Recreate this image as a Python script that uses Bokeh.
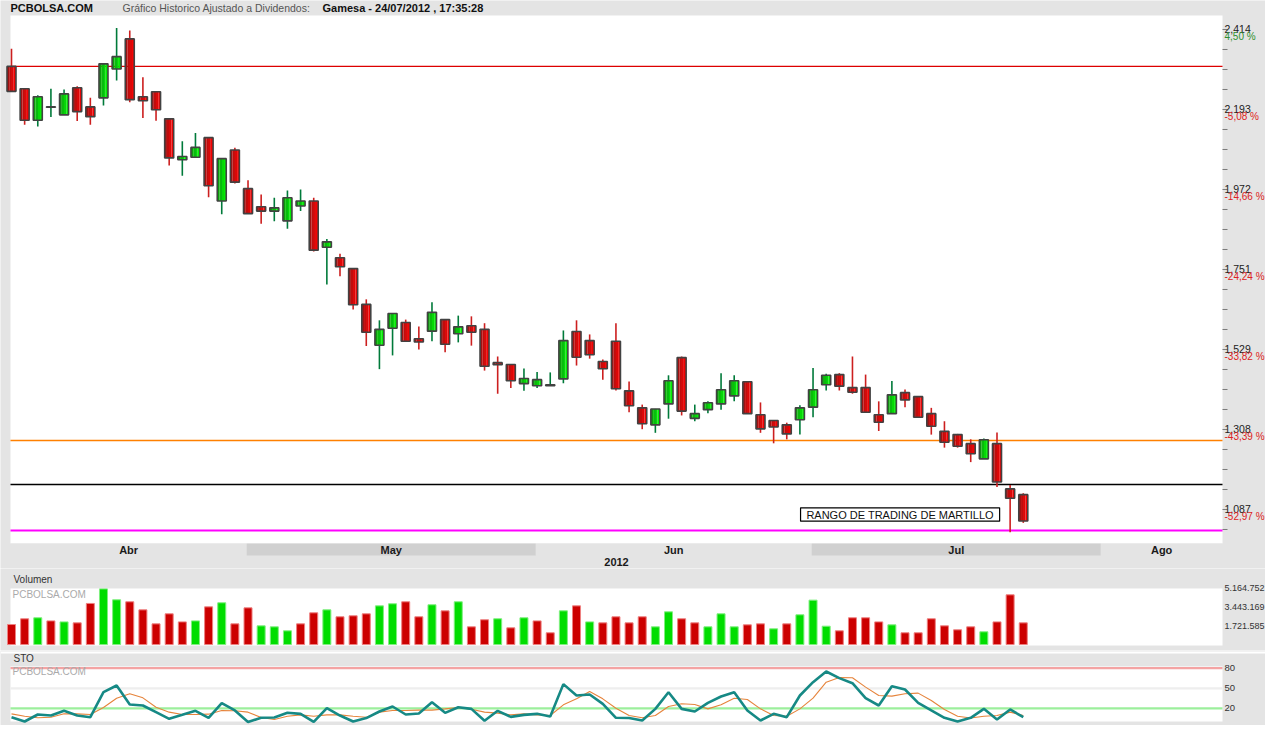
import numpy as np
from bokeh.plotting import figure
from bokeh.models import ColumnDataSource, Range1d
from bokeh.layouts import column
from bokeh.embed import file_html
from bokeh.resources import INLINE
from bokeh.core.properties import value

# ---------------- data ----------------
opens = [2.312, 2.250, 2.163, 2.199, 2.178, 2.253, 2.200, 2.225, 2.305, 2.388,
         2.228, 2.242, 2.167, 2.054, 2.061, 2.115, 1.940, 2.081, 1.974, 1.924,
         1.912, 1.885, 1.926, 1.940, 1.812, 1.783, 1.753, 1.654, 1.541, 1.588,
         1.604, 1.559, 1.580, 1.612, 1.573, 1.595, 1.585, 1.493, 1.488, 1.435,
         1.429, 1.429, 1.448, 1.579, 1.554, 1.496, 1.552, 1.415, 1.368, 1.321,
         1.379, 1.507, 1.339, 1.363, 1.379, 1.401, 1.440, 1.349, 1.333, 1.321,
         1.335, 1.370, 1.432, 1.460, 1.424, 1.424, 1.349, 1.352, 1.410, 1.399,
         1.352, 1.303, 1.294, 1.269, 1.227, 1.269, 1.144, 1.128]
highs = [2.361, 2.250, 2.232, 2.250, 2.248, 2.257, 2.225, 2.319, 2.418, 2.411,
         2.282, 2.242, 2.167, 2.105, 2.128, 2.115, 2.057, 2.087, 1.997, 1.958,
         1.949, 1.969, 1.972, 1.949, 1.835, 1.794, 1.753, 1.668, 1.610, 1.629,
         1.612, 1.593, 1.660, 1.612, 1.623, 1.621, 1.602, 1.510, 1.488, 1.477,
         1.467, 1.466, 1.582, 1.610, 1.571, 1.502, 1.602, 1.441, 1.377, 1.365,
         1.458, 1.510, 1.377, 1.386, 1.464, 1.458, 1.440, 1.383, 1.333, 1.327,
         1.375, 1.478, 1.462, 1.464, 1.510, 1.460, 1.386, 1.442, 1.419, 1.399,
         1.368, 1.331, 1.296, 1.281, 1.283, 1.300, 1.155, 1.132]
lows = [2.241, 2.151, 2.146, 2.172, 2.178, 2.161, 2.151, 2.204, 2.273, 2.213,
        2.169, 2.162, 2.038, 2.010, 2.061, 1.950, 1.903, 1.988, 1.904, 1.877,
        1.884, 1.863, 1.912, 1.800, 1.709, 1.732, 1.640, 1.539, 1.475, 1.513,
        1.552, 1.529, 1.552, 1.522, 1.549, 1.540, 1.471, 1.407, 1.423, 1.415,
        1.423, 1.429, 1.436, 1.485, 1.504, 1.446, 1.416, 1.356, 1.309, 1.299,
        1.338, 1.347, 1.331, 1.353, 1.363, 1.386, 1.352, 1.299, 1.270, 1.281,
        1.294, 1.342, 1.416, 1.416, 1.407, 1.355, 1.304, 1.352, 1.370, 1.342,
        1.294, 1.258, 1.258, 1.218, 1.227, 1.149, 1.024, 1.050]
closes = [2.243, 2.163, 2.228, 2.200, 2.236, 2.187, 2.173, 2.319, 2.339, 2.220,
          2.217, 2.192, 2.059, 2.063, 2.088, 1.982, 2.057, 1.992, 1.905, 1.912,
          1.921, 1.949, 1.940, 1.804, 1.827, 1.758, 1.653, 1.577, 1.585, 1.629,
          1.552, 1.550, 1.632, 1.544, 1.592, 1.577, 1.483, 1.487, 1.443, 1.449,
          1.446, 1.432, 1.554, 1.508, 1.515, 1.476, 1.421, 1.374, 1.324, 1.365,
          1.443, 1.359, 1.352, 1.382, 1.418, 1.443, 1.352, 1.310, 1.315, 1.296,
          1.368, 1.418, 1.458, 1.428, 1.411, 1.356, 1.328, 1.404, 1.390, 1.342,
          1.317, 1.273, 1.262, 1.241, 1.280, 1.163, 1.118, 1.055]
volumes = [1810000, 2330000, 2420000, 2140000, 2050000, 1960000, 3720000, 5040000, 4050000, 3870000,
           3140000, 1870000, 2780000, 2050000, 2140000, 3410000, 3780000, 1870000, 3320000, 1690000,
           1600000, 1240000, 1870000, 2870000, 3140000, 2510000, 2600000, 2780000, 3500000, 3690000,
           3870000, 2510000, 3600000, 3050000, 3870000, 1600000, 2240000, 2330000, 1510000, 2420000,
           2140000, 1060000, 3050000, 3500000, 2050000, 1960000, 2510000, 1960000, 2510000, 1600000,
           2960000, 2330000, 1960000, 1600000, 2780000, 1600000, 1780000, 1870000, 1420000, 1870000,
           2690000, 4020000, 1660000, 1240000, 2420000, 2420000, 2050000, 1780000, 1060000, 1060000,
           2330000, 1690000, 1330000, 1600000, 1150000, 2050000, 4500000, 1960000]
vol_up = [0, 0, 1, 0, 1, 0, 0, 1, 1, 0, 0, 0, 0, 0, 1, 0, 1, 0, 0, 1,
          1, 1, 0, 0, 1, 0, 0, 0, 1, 1, 0, 0, 1, 0, 1, 0, 0, 1, 0, 1,
          0, 0, 1, 0, 1, 0, 0, 0, 0, 1, 1, 0, 0, 1, 1, 1, 0, 0, 1, 0,
          1, 1, 1, 0, 0, 0, 0, 1, 0, 0, 0, 0, 0, 0, 1, 0, 0, 0]
sto_k = [7.0, 0.6, 11.0, 9.5, 16.5, 9.5, 7.0, 44.2, 54.2, 25.9,
         24.4, 14.5, 4.6, 10.5, 16.5, 6.1, 27.9, 17.0, 0.0, 6.1,
         6.5, 13.5, 12.0, 0.0, 20.4, 9.5, 0.6, 5.7, 15.5, 22.9,
         11.0, 12.5, 29.4, 13.5, 21.9, 19.4, 1.6, 16.5, 7.5, 10.5,
         12.0, 8.0, 56.2, 39.3, 40.8, 26.9, 6.1, 5.7, 2.1, 19.4,
         44.2, 19.4, 15.5, 28.4, 37.8, 44.2, 17.0, 2.1, 12.0, 7.0,
         39.3, 59.1, 75.0, 65.1, 57.6, 35.3, 24.4, 53.2, 48.2, 28.4,
         17.0, 6.1, 0.6, 6.1, 19.4, 3.6, 18.5, 7.0]
sto_d = [12.0, 8.5, 6.1, 7.0, 12.0, 12.0, 11.0, 21.4, 35.3, 41.8,
         35.8, 21.9, 14.5, 11.0, 11.0, 11.5, 17.0, 16.5, 14.5, 6.5,
         3.6, 8.5, 10.5, 8.5, 10.5, 10.5, 8.5, 7.0, 14.5, 17.0,
         17.0, 17.5, 17.5, 19.4, 21.4, 18.9, 14.5, 13.0, 10.5, 12.0,
         10.5, 9.5, 25.4, 34.3, 45.2, 34.3, 20.4, 9.5, 6.1, 9.5,
         22.9, 26.9, 25.9, 19.4, 25.4, 35.3, 33.3, 19.4, 9.5, 8.5,
         19.4, 35.3, 59.1, 66.1, 65.6, 51.7, 39.3, 38.3, 41.8, 42.8,
         31.8, 18.5, 8.5, 5.7, 8.5, 9.5, 14.5, 9.5]

price_ticks = [2.414, 2.193, 1.972, 1.751, 1.529, 1.308, 1.087]
price_tick_labels = ["2,414", "2,193", "1,972", "1,751", "1,529", "1,308", "1,087"]
pct_labels = ["4,50 %", "-5,08 %", "-14,66 %", "-24,24 %", "-33,82 %", "-43,39 %", "-52,97 %"]
vol_ticks = [5164752, 3443169, 1721585]
vol_tick_labels = ["5.164.752", "3.443.169", "1.721.585"]
sto_ticks = [80, 50, 20]
sto_tick_labels = ["80", "50", "20"]
sto_tick_colors = ["#f4a3a3", "#eeeeee", "#9cef9c"]

months = ["Abr", "May", "Jun", "Jul", "Ago"]
month_starts = [17.9, 39.9, 60.9, 82.9]   # bar index where a new month begins
year_label = "2012"

hlines = [2.312, 1.2776, 1.1561, 1.029]
hline_colors = ["#dd0000", "#ff8000", "#000000", "#ff00ff"]
hline_widths = [1.3, 1.5, 1.3, 2.0]

note_text = "RANGO DE TRADING DE MARTILLO"
note_box = dict(x0=60.05, x1=75.2, y0=1.0547, y1=1.0917)

# ---------------- layout constants ----------------
BG = "#e4e4e4"
FONT = "Liberation Sans"
W = 1265
PX_BAR = 13.14
X0 = 11.0


def ix(px):
    return (px - X0) / PX_BAR


x_range = Range1d(ix(0), ix(W))
XL = ix(10)
XR = ix(1222)
LABX = ix(1224)
n = len(closes)
idx = np.arange(n)


def base_fig(h, yr):
    p = figure(width=W, height=h, x_range=x_range, y_range=yr,
               x_axis_type=None, y_axis_type=None,
               output_backend="svg", toolbar_location=None, min_border=0,
               background_fill_color=BG, border_fill_color=BG,
               outline_line_color=None)
    p.grid.visible = False
    return p


def txt(p, x, y, t, size="11px", color="#222", align="left", baseline="middle",
        style="normal"):
    src = ColumnDataSource(dict(x=list(x), y=list(y), t=list(t),
                                c=list(color) if isinstance(color, list) else [color] * len(t)))
    p.text(x="x", y="y", text="t", source=src, text_color="c",
           text_font=value(FONT), text_font_size=size, text_align=align,
           text_baseline=baseline, text_font_style=style)


# ---------------- main price panel ----------------
HA = 568
P_TOP, P_BOT = 2.4527, 0.9930
TOPPX, BOTPX = 15, 543
KA = (BOTPX - TOPPX) / (P_TOP - P_BOT)


def pa(py):
    return P_TOP - (py - TOPPX) / KA


pA = base_fig(HA, Range1d(pa(HA), pa(0)))
pA.quad(left=[XL], right=[XR], bottom=[P_BOT], top=[P_TOP], fill_color="white", line_color=None)

for lv, lc, lw in zip(hlines, hline_colors, hline_widths):
    pA.segment(x0=[XL], x1=[XR], y0=[lv], y1=[lv], line_color=lc, line_width=lw)

up = np.array(closes) >= np.array(opens)
wick_col = np.where(up, "#007a3a", "#cc1f1f")
src = ColumnDataSource(dict(x=idx, o=opens, h=highs, l=lows, c=closes,
                            bt=np.maximum(opens, closes), bb=np.minimum(opens, closes),
                            wc=wick_col))
pA.segment(x0="x", x1="x", y0="l", y1="h", line_color="wc", line_width=1.6, source=src)
BW = 9 / PX_BAR
red_grad = ["#a01212", "#c10c0c", "#dc0707", "#f40202"]
green_grad = ["#0c9c0c", "#0abd0a", "#06d806", "#02ee02"]
for k in range(4):
    off = -BW / 2 + BW / 8 + k * BW / 4
    cols = np.where(up, green_grad[k], red_grad[k])
    s = ColumnDataSource(dict(x=idx + off, t=src.data["bt"], b=src.data["bb"], fc=cols))
    pA.vbar(x="x", top="t", bottom="b", width=BW / 4, fill_color="fc", line_color=None, source=s)
pA.vbar(x="x", top="bt", bottom="bb", width=BW, fill_alpha=0, line_color="#424242",
        line_width=1.6, source=src)

# note box
pA.quad(left=[note_box["x0"]], right=[note_box["x1"]], bottom=[note_box["y0"]], top=[note_box["y1"]],
        fill_color="white", line_color="black", line_width=1.2)
txt(pA, [(note_box["x0"] + note_box["x1"]) / 2], [(note_box["y0"] + note_box["y1"]) / 2 - 0.3 / KA],
    [note_text], size="11px", color="#111", align="center")

# right price axis
step = (price_ticks[0] - price_ticks[-1]) / (len(price_ticks) - 1) / 4
minor = [price_ticks[-1] + j * step for j in range(-3, 30)]
minor = [m for m in minor if P_BOT < m < P_TOP]
tw = 5 / PX_BAR
pA.segment(x0=[XR] * len(minor), x1=[XR + tw] * len(minor), y0=minor, y1=minor,
           line_color="#7a7a7a", line_width=1)
txt(pA, [LABX] * len(price_ticks), [t + 0.5 / KA for t in price_ticks], price_tick_labels,
    size="10.5px", color="#222", baseline="alphabetic")
pct_cols = ["#2f8f2f" if not s.startswith("-") else "#dd2222" for s in pct_labels]
txt(pA, [LABX] * len(price_ticks), [t - 1.5 / KA for t in price_ticks], pct_labels,
    size="10px", color=pct_cols, baseline="top")

# month band
bounds = [XL] + month_starts + [XR]
band_cols = [BG if i % 2 == 0 else "#d0d0d0" for i in range(len(months))]
pA.quad(left=bounds[:-1], right=bounds[1:], bottom=[pa(BOTPX + 12)] * len(months),
        top=[pa(BOTPX)] * len(months), fill_color=band_cols, line_color=None)
centers = [(a + b) / 2 for a, b in zip(bounds[:-1], bounds[1:])]
txt(pA, centers, [pa(BOTPX + 6.5)] * len(months), months, size="11px", color="#1a1a1a",
    align="center", style="bold")
txt(pA, [(XL + XR) / 2], [pa(BOTPX + 18.5)], [year_label], size="11px", color="#1a1a1a",
    align="center", style="bold")

# header
hy = pa(7.5)
txt(pA, [ix(10)], [hy], ["PCBOLSA.COM"], size="11px", color="#111", style="bold")
txt(pA, [ix(122)], [hy], ["Gráfico Historico Ajustado a Dividendos:"], size="10.5px", color="#555")
txt(pA, [ix(322)], [hy], ["Gamesa - 24/07/2012 , 17:35:28"], size="11px", color="#111", style="bold")

# ---------------- volume panel ----------------
HB = 82
TOPB = HA
KV = 19.0 / 1721585
ZV = 644


def pv(py):
    return (ZV - py) / KV


pB = base_fig(HB, Range1d(pv(TOPB + HB), pv(TOPB)))
pB.quad(left=[XL], right=[XR], bottom=[pv(645)], top=[pv(588)], fill_color="white", line_color=None)
vsrc = ColumnDataSource(dict(x=idx, v=volumes,
                             fc=["#00dd00" if u else "#cc0000" for u in vol_up],
                             lc=["#7fef7f" if u else "#ee8080" for u in vol_up]))
pB.vbar(x="x", top="v", bottom=0, width=8 / PX_BAR, fill_color="fc", line_color="lc",
        line_width=1, source=vsrc)
txt(pB, [LABX] * 3, vol_ticks, vol_tick_labels, size="9px", color="#333")
txt(pB, [ix(13)], [pv(578.5)], ["Volumen"], size="10px", color="#333")
txt(pB, [ix(12)], [pv(593.5)], ["PCBOLSA.COM"], size="10px", color="#aaaaaa")

# ---------------- stochastic panel ----------------
HC = 75
TOPC = TOPB + HB
KS = 0.672
ZS = 721.4


def ps(py):
    return (ZS - py) / KS


pC = base_fig(HC, Range1d(ps(TOPC + HC), ps(TOPC)))
pC.segment(x0=[ix(0)], x1=[ix(W)], y0=[ps(652)], y1=[ps(652)], line_color="white",
           line_width=2)
pC.quad(left=[XL], right=[XR], bottom=[ps(721)], top=[ps(666)], fill_color="white", line_color=None)
for tv, tc in zip(sto_ticks, sto_tick_colors):
    pC.segment(x0=[XL], x1=[XR], y0=[tv], y1=[tv], line_color=tc, line_width=2.2)
pC.line(idx, sto_d, line_color="#e6843c", line_width=1.1)
pC.line(idx, sto_k, line_color="#168985", line_width=2.6)
txt(pC, [LABX] * 3, sto_ticks, sto_tick_labels, size="9.5px", color="#333")
txt(pC, [ix(13)], [ps(658)], ["STO"], size="10px", color="#333")
txt(pC, [ix(12)], [ps(670.5)], ["PCBOLSA.COM"], size="10px", color="#aaaaaa")

layout = column(pA, pB, pC, spacing=0)
open("out.html", "w").write(file_html(layout, INLINE))
